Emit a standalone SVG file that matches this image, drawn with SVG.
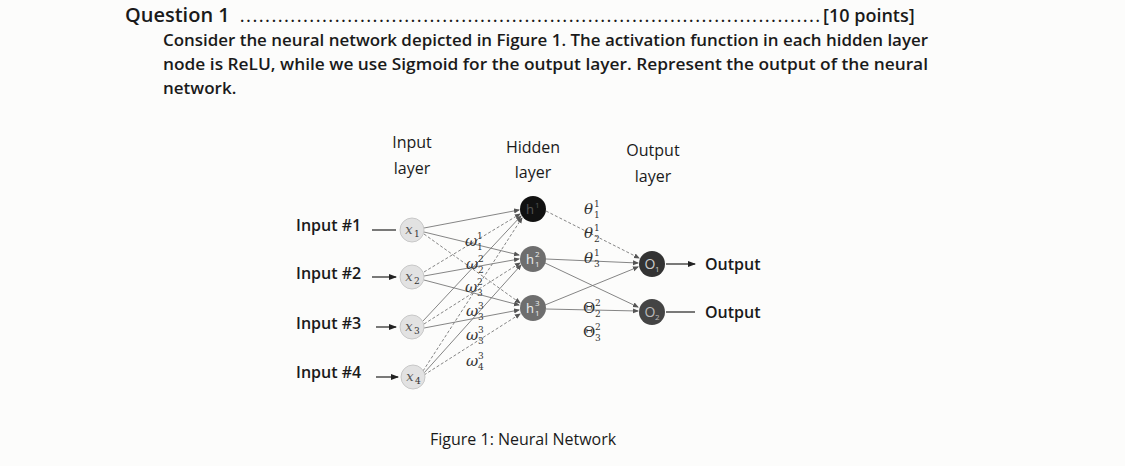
<svg xmlns="http://www.w3.org/2000/svg" width="1125" height="466" viewBox="0 0 1125 466">
<defs>
<marker id="a" markerWidth="6" markerHeight="6" refX="5" refY="3" orient="auto" markerUnits="userSpaceOnUse"><path d="M0,0.5 L6,3 L0,5.5 z" fill="#555"/></marker>
<marker id="b" markerWidth="8" markerHeight="8" refX="7" refY="4" orient="auto" markerUnits="userSpaceOnUse"><path d="M0,1 L8,4 L0,7 z" fill="#222"/></marker>
</defs>
<style>
text{font-family:"Open Sans","Liberation Sans",sans-serif;fill:#1a1a1a}
.t{font-size:17px;font-weight:600}
.l{font-size:16px;font-weight:500;text-anchor:middle}
.i{font-size:16px;font-weight:600}
.m{font-family:"DejaVu Serif","Liberation Serif",serif;font-style:italic;font-size:15px;fill:#333}
.s{font-family:"DejaVu Serif","Liberation Serif",serif;font-size:9px;fill:#333}
.e{stroke:#777;stroke-width:0.9;fill:none;marker-end:url(#a)}
.d{stroke-dasharray:3 2}
.k{stroke:#222;stroke-width:1.2;marker-end:url(#b)}
.in{fill:#e2e2e2;stroke:#c8c8c8}
.nt{font-family:"DejaVu Serif","Liberation Serif",serif;font-style:italic;font-size:13px;text-anchor:middle;fill:#555}
</style>
<rect width="1125" height="466" fill="#fcfcfb"/>
<text x="125" y="22" style="font-size:20px;font-weight:600">Question 1</text>
<text x="240" y="22" style="font-size:16px;font-weight:600" textLength="580" lengthAdjust="spacing">............................................................................................</text>
<text x="823" y="22" style="font-size:18px;font-weight:600">[10 points]</text>
<text class="t" x="163" y="46" textLength="765" lengthAdjust="spacingAndGlyphs">Consider the neural network depicted in Figure 1. The activation function in each hidden layer</text>
<text class="t" x="163" y="70" textLength="765" lengthAdjust="spacingAndGlyphs">node is ReLU, while we use Sigmoid for the output layer. Represent the output of the neural</text>
<text class="t" x="163" y="94">network.</text>

<g id="titles">
<text class="l" x="412" y="148">Input</text><text class="l" x="412" y="174">layer</text>
<text class="l" x="533" y="153">Hidden</text><text class="l" x="533" y="178">layer</text>
<text class="l" x="653" y="156">Output</text><text class="l" x="653" y="182">layer</text>
</g>

<g id="connectors">
<g class="k">
<line x1="372" y1="230" x2="396" y2="230" style="marker-end:none"/>
<line x1="372" y1="277" x2="396" y2="277"/>
<line x1="376" y1="327" x2="396" y2="327"/>
<line x1="376" y1="377" x2="398" y2="377"/>
<line x1="666" y1="264" x2="695" y2="264"/>
<line x1="666" y1="312" x2="695" y2="312" style="marker-end:none"/>
</g>
<g>
<line class="e" x1="424" y1="228" x2="519" y2="210"/>
<line class="e" x1="424" y1="232" x2="519" y2="255"/>
<line class="e d" x1="424" y1="234" x2="520" y2="303"/>
<line class="e d" x1="424" y1="272" x2="520" y2="214"/>
<line class="e" x1="424" y1="276" x2="519" y2="259"/>
<line class="e" x1="424" y1="280" x2="519" y2="305"/>
<line class="e" x1="423" y1="321" x2="521" y2="216"/>
<line class="e d" x1="424" y1="324" x2="520" y2="263"/>
<line class="e" x1="424" y1="328" x2="519" y2="310"/>
<line class="e d" x1="423" y1="371" x2="522" y2="218"/>
<line class="e" x1="424" y1="373" x2="521" y2="265"/>
<line class="e d" x1="424" y1="375" x2="520" y2="314"/>
<line class="e d" x1="546" y1="211" x2="639" y2="258"/>
<line class="e" x1="546" y1="259" x2="638" y2="263"/>
<line class="e" x1="545" y1="263" x2="638" y2="307"/>
<line class="e" x1="545" y1="305" x2="638" y2="267"/>
<line class="e" x1="546" y1="309" x2="638" y2="311"/>
</g>
</g>

<g id="inputs">
<text class="i" x="296" y="231">Input #1</text>
<text class="i" x="296" y="279">Input #2</text>
<text class="i" x="296" y="329">Input #3</text>
<text class="i" x="296" y="378">Input #4</text>
</g>
<g id="x1"><circle class="in" cx="412" cy="230" r="12"/><text class="nt" x="409" y="234">x</text><text class="s" x="414" y="237" fill="#555">1</text></g>
<g id="x2"><circle class="in" cx="412" cy="277" r="12"/><text class="nt" x="409" y="281">x</text><text class="s" x="414" y="284">2</text></g>
<g id="x3"><circle class="in" cx="412" cy="327" r="12"/><text class="nt" x="409" y="331">x</text><text class="s" x="414" y="334">3</text></g>
<g id="x4"><circle class="in" cx="413" cy="377" r="12"/><text class="nt" x="410" y="381">x</text><text class="s" x="415" y="384">4</text></g>
<g id="h1"><circle cx="533" cy="209" r="13" fill="#111"/><text x="530" y="214" style="font-size:13px;text-anchor:middle;fill:#555">h</text><text x="535" y="208" style="font-size:8px;fill:#555">1</text></g>
<g id="h2"><circle cx="533" cy="259" r="13" fill="#6e6e6e"/><text x="530" y="264" style="font-size:13px;text-anchor:middle;fill:#eee">h</text><text x="535" y="257" style="font-size:8px;fill:#eee">2</text><text x="535" y="267" style="font-size:8px;fill:#eee">1</text></g>
<g id="h3"><circle cx="533" cy="308" r="13" fill="#6e6e6e"/><text x="530" y="313" style="font-size:13px;text-anchor:middle;fill:#eee">h</text><text x="535" y="306" style="font-size:8px;fill:#eee">3</text><text x="535" y="316" style="font-size:8px;fill:#eee">1</text></g>
<g id="O1"><circle cx="652" cy="264" r="13" fill="#333"/><text x="650" y="269" style="font-size:14px;text-anchor:middle;fill:#ccc">O</text><text x="655" y="272" style="font-size:8px;fill:#ccc">1</text></g>
<g id="O2"><circle cx="652" cy="312" r="13" fill="#444"/><text x="650" y="317" style="font-size:14px;text-anchor:middle;fill:#bbb">O</text><text x="655" y="320" style="font-size:8px;fill:#bbb">2</text></g>
<g id="outputs">
<text class="i" x="705" y="270">Output</text>
<text class="i" x="705" y="318">Output</text>
</g>

<g id="weights">
<text class="m" x="465" y="246">ω</text><text class="s" x="477" y="239">1</text><text class="s" x="477" y="250">1</text>
<text class="m" x="466" y="269">ω</text><text class="s" x="478" y="262">2</text><text class="s" x="478" y="273">2</text>
<text class="m" x="465" y="292">ω</text><text class="s" x="477" y="285">2</text><text class="s" x="477" y="296">3</text>
<text class="m" x="466" y="316">ω</text><text class="s" x="478" y="309">3</text><text class="s" x="478" y="320">3</text>
<text class="m" x="466" y="340">ω</text><text class="s" x="478" y="333">3</text><text class="s" x="478" y="344">3</text>
<text class="m" x="466" y="366">ω</text><text class="s" x="478" y="359">3</text><text class="s" x="478" y="370">4</text>
</g>
<g id="thetas">
<text class="m" x="584" y="214">θ</text><text class="s" x="594" y="207">1</text><text class="s" x="594" y="218">1</text>
<text class="m" x="584" y="238">θ</text><text class="s" x="594" y="231">1</text><text class="s" x="594" y="242">2</text>
<text class="m" x="584" y="263">θ</text><text class="s" x="594" y="256">1</text><text class="s" x="594" y="267">3</text>
<text class="m" x="583" y="313" style="font-style:normal">Θ</text><text class="s" x="595" y="306">2</text><text class="s" x="595" y="317">2</text>
<text class="m" x="583" y="337" style="font-style:normal">Θ</text><text class="s" x="595" y="330">2</text><text class="s" x="595" y="341">3</text>
</g>
<text x="430" y="445" style="font-size:16px;font-weight:500">Figure 1: Neural Network</text>
</svg>
